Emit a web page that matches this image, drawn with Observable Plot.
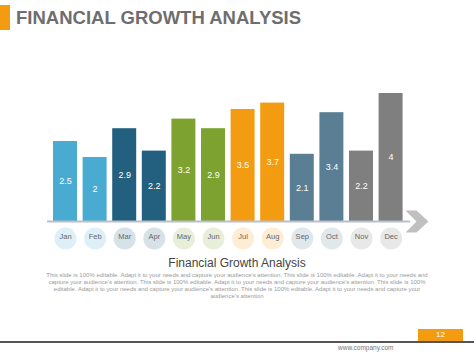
<!DOCTYPE html>
<html><head><meta charset="utf-8">
<script src="https://cdn.jsdelivr.net/npm/d3@7"></script>
<script src="https://cdn.jsdelivr.net/npm/@observablehq/plot@0.6"></script>
<style>
body{margin:0;background:#fff;font-family:"Liberation Sans",Arial,sans-serif;}
#page{position:relative;width:474px;height:355px;overflow:hidden;}
#bar{position:absolute;left:0;top:5px;width:10px;height:25px;background:#f39c12;}
#title{position:absolute;left:16px;top:7px;font-size:18.5px;font-weight:bold;color:#6e6e6e;white-space:nowrap;}
#chart{position:absolute;left:0;top:0;}
#sub{position:absolute;left:0;width:474px;top:256px;text-align:center;font-size:12px;color:#444;}
#para{position:absolute;left:0;width:474px;top:272px;text-align:center;font-size:6px;line-height:7px;color:#9a9a9a;white-space:nowrap;}
#line{position:absolute;left:0;top:341px;width:474px;height:2px;background:#555;}
#pg{position:absolute;left:418px;top:329px;width:45px;height:12px;background:#f39c12;color:#fff;font-size:8px;text-align:center;line-height:12px;}
#url{position:absolute;left:338px;top:344px;font-size:6.5px;color:#777;}
</style></head>
<body><div id="page">
<div id="bar"></div>
<div id="title">FINANCIAL GROWTH ANALYSIS</div>
<div id="chart"></div>
<div id="sub">Financial Growth Analysis</div>
<div id="para">This slide is 100% editable. Adapt it to your needs and capture your audience's attention. This slide is 100% editable. Adapt it to your needs and<br>capture your audience's attention. This slide is 100% editable. Adapt it to your needs and capture your audience's attention. This slide is 100%<br>editable. Adapt it to your needs and capture your audience's attention. This slide is 100% editable. Adapt it to your needs and capture your<br>audience's attention</div>
<div id="line"></div>
<div id="pg">12</div>
<div id="url">www.company.com</div>
</div>
<script>
const months = ["Jan","Feb","Mar","Apr","May","Jun","Jul","Aug","Sep","Oct","Nov","Dec"];
const values = [2.5,2,2.9,2.2,3.2,2.9,3.5,3.7,2.1,3.4,2.2,4];
const colors = ["#4aabd2","#4aabd2","#23607f","#23607f","#7ea22f","#7ea22f","#f39c12","#f39c12","#5a7e93","#5a7e93","#7f7f7f","#7f7f7f"];

const data = months.map((m,i)=>({month:m,value:values[i],color:colors[i],tint:d3.interpolateRgb(colors[i],"#fff")(0.82)}));

const chevron = {draw(ctx){
  ctx.moveTo(-12,-11); ctx.lineTo(-1,-11); ctx.lineTo(11,0); ctx.lineTo(-1,11); ctx.lineTo(-12,11); ctx.lineTo(-1,0); ctx.closePath();
}};

const chart = Plot.plot({
  width:474, height:260,
  marginTop:93, marginBottom:39, marginLeft:47, marginRight:64,
  x:{type:"band", domain:months, range:[47.4,408.2], padding:0.19, round:false, axis:null},
  y:{domain:[0,4], axis:null},
  style:{fontFamily:"Liberation Sans, Arial, sans-serif", background:"transparent"},
  marks:[
    Plot.barY(data,{x:"month",y:"value",fill:d=>d.color}),
    Plot.ruleY([0],{stroke:"#b9c0cc",strokeWidth:2}),
    Plot.dot([0],{y:d=>d, frameAnchor:"right", dx:7, symbol:chevron, fill:"#c0c0c0", stroke:"none", r:12}),
    Plot.text(data,{x:"month",y:d=>d.value/2,text:d=>String(d.value),fill:"#fff",fontSize:9}),
    Plot.dot(data,{x:"month",frameAnchor:"bottom",dy:17,r:11,fill:d=>d.tint,stroke:"none"}),
    Plot.text(data,{x:"month",frameAnchor:"bottom",dy:17,text:"month",fill:"#666",fontSize:7.5})
  ]
});
document.getElementById("chart").appendChild(chart);
</script>
</body></html>
